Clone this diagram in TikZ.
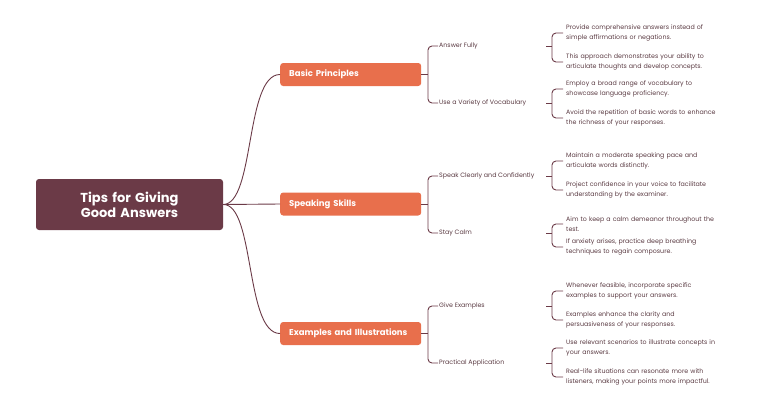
\documentclass[tikz,border=0pt]{standalone}
\usepackage{fontspec}
\setmainfont{Poppins}
\definecolor{root}{HTML}{6B3A47}
\definecolor{org}{HTML}{E86F4C}
\definecolor{ln}{HTML}{6B3A47}
\definecolor{tx}{HTML}{5A3A42}
\begin{document}
\begin{tikzpicture}[x=1pt,y=-1pt,
  rootbox/.style={fill=root,rounded corners=3pt,minimum width=187pt,minimum height=51pt,text=white,font=\fontsize{13}{15}\selectfont\bfseries,align=center,text width=175pt},
  l1/.style={fill=org,rounded corners=3pt,minimum width=141pt,minimum height=23pt,text=white,font=\fontsize{8.5}{10}\selectfont\bfseries,anchor=west,inner xsep=9pt,text width=123pt},
  l2/.style={anchor=west,text=tx,font=\fontsize{6.3}{8}\selectfont,inner sep=1pt},
  lf/.style={anchor=west,text=tx,font=\fontsize{6.3}{10}\selectfont,inner sep=0pt,text width=190pt,align=left},
  con/.style={draw=ln,line width=0.9pt},
  br/.style={con,rounded corners=4pt}]
\useasboundingbox (0,0) rectangle (768,408);
\node[rootbox] (r) at (129.5,204.5) {Tips for Giving Good Answers};
\node[l1] (a) at (280,74.5) {Basic Principles};
\node[l1] (b) at (280,204) {Speaking Skills};
\node[l1] (c) at (280,333.5) {Examples and Illustrations};
\draw[con] (r.east) .. controls (255,204) and (245,74.5) .. (a.west);
\draw[con] (r.east) -- (b.west);
\draw[con] (r.east) .. controls (255,204) and (245,333.5) .. (c.west);
% level 2
\node[l2] (a1) at (438,46) {Answer Fully};
\node[l2] (a2) at (438,103) {Use a Variety of Vocabulary};
\node[l2] (b1) at (438,176) {Speak Clearly and Confidently};
\node[l2] (b2) at (438,233) {Stay Calm};
\node[l2] (c1) at (438,306) {Give Examples};
\node[l2] (c2) at (438,363) {Practical Application};
\foreach \p/\u/\d/\y/\ya/\yb in {a/a1/a2/74.5/46/103,b/b1/b2/204/176/233,c/c1/c2/333.5/306/363}{
  \draw[con] (\p.east) -- (428,\y);
  \draw[br] (\u.west) -- (428,\ya) -- (428,\yb) -- (\d.west);
}
% leaves
\node[lf] (a1x) at (566,33) {Provide comprehensive answers instead of\\simple affirmations or negations.};
\node[lf] (a1y) at (566,62) {This approach demonstrates your ability to\\articulate thoughts and develop concepts.};
\node[lf] (a2x) at (566,89) {Employ a broad range of vocabulary to\\showcase language proficiency.};
\node[lf] (a2y) at (566,118) {Avoid the repetition of basic words to enhance\\the richness of your responses.};
\node[lf] (b1x) at (566,161) {Maintain a moderate speaking pace and\\articulate words distinctly.};
\node[lf] (b1y) at (566,190) {Project confidence in your voice to facilitate\\understanding by the examiner.};
\node[lf] (b2x) at (566,224) {Aim to keep a calm demeanor throughout the\\test.};
\node[lf] (b2y) at (566,247) {If anxiety arises, practice deep breathing\\techniques to regain composure.};
\node[lf] (c1x) at (566,291) {Whenever feasible, incorporate specific\\examples to support your answers.};
\node[lf] (c1y) at (566,320) {Examples enhance the clarity and\\persuasiveness of your responses.};
\node[lf] (c2x) at (566,348) {Use relevant scenarios to illustrate concepts in\\your answers.};
\node[lf] (c2y) at (566,377) {Real-life situations can resonate more with\\listeners, making your points more impactful.};
\foreach \n/\y/\ya/\yb in {a1/46/33/62,a2/103/89/118,b1/176/161/190,b2/233/224/247,c1/306/291/320,c2/363/348/377}{
  \coordinate (s\n) at (552,\y);
  \draw[con] (546,\y) -- (s\n);
  \draw[br] (\n x.west) ++(-3,0) -- (552,\ya) -- (552,\yb) -- ([xshift=-3pt]\n y.west);
}
\end{tikzpicture}
\end{document}
